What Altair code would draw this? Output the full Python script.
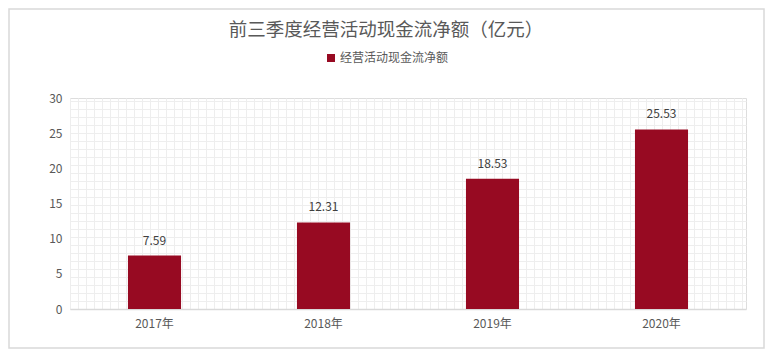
import altair as alt
import pandas as pd

# ---- data ----
YEARS = ["2017年", "2018年", "2019年", "2020年"]
VALUES = [7.59, 12.31, 18.53, 25.53]
SERIES = "经营活动现金流净额"
TITLE = "前三季度经营活动现金流净额（亿元）"
Y_TICKS = [0, 5, 10, 15, 20, 25, 30]

FONT = "Noto Sans CJK SC"
BAR_COLOR = "#970a22"
TEXT_COLOR = "#595959"

W, H = 676, 211

df = pd.DataFrame({"year": YEARS, "value": VALUES, "series": [SERIES] * len(YEARS)})

# decorative square background grid (about 8px cells)
grid_df = pd.DataFrame({"gx": [0], "gy": [0]})
grid = alt.Chart(grid_df).mark_point(opacity=0).encode(
    x=alt.X("gx:Q", scale=alt.Scale(domain=[0, 84.5], nice=False, zero=False),
            axis=alt.Axis(orient="top", grid=True, gridColor="#eeeeee", gridWidth=1,
                          labels=False, ticks=False, domain=False, title=None,
                          values=list(range(0, 85)))),
    y=alt.Y("gy:Q", scale=alt.Scale(domain=[0, 26.4], nice=False, zero=False),
            axis=alt.Axis(orient="right", grid=True, gridColor="#eeeeee", gridWidth=1,
                          labels=False, ticks=False, domain=False, title=None,
                          values=list(range(0, 27)))),
)

base = alt.Chart(df)
x_enc = alt.X("year:N", sort=YEARS,
              scale=alt.Scale(paddingInner=0.686, paddingOuter=0.343),
              axis=alt.Axis(orient="bottom", title=None, labelAngle=0, ticks=False,
                            domainColor="#d9d9d9", domainWidth=1.5,
                            labelColor=TEXT_COLOR, labelFontSize=12, labelFont=FONT,
                            labelPadding=9, grid=False))
y_enc = alt.Y("value:Q", scale=alt.Scale(domain=[0, 30], nice=False),
              axis=alt.Axis(orient="left", title=None, values=Y_TICKS, grid=False,
                            ticks=False, domain=False, labelColor=TEXT_COLOR,
                            labelFontSize=12, labelFont=FONT, labelPadding=8,
                            labelOverlap=False, tickCount=7))

bars = base.mark_bar(color=BAR_COLOR).encode(
    x=x_enc,
    y=y_enc,
    color=alt.Color("series:N", scale=alt.Scale(range=[BAR_COLOR]),
                    legend=alt.Legend(title=None, orient="none", legendX=255, legendY=-46,
                                      symbolType="square", symbolSize=64,
                                      symbolStrokeWidth=0, labelFont=FONT,
                                      labelFontSize=12, labelColor=TEXT_COLOR,
                                      labelOffset=3, padding=0)),
)
labels = base.mark_text(baseline="bottom", dy=-8, font=FONT, fontSize=12,
                        color="#404040").encode(
    x=x_enc,
    y=y_enc,
    text=alt.Text("value:Q", format=".2f"),
)

main = alt.layer(bars, labels)

frame = alt.Chart(grid_df).mark_rect(fill=None, stroke="#d9d9d9", strokeWidth=1.5).encode(
    x=alt.value(-61), x2=alt.value(W + 18), y=alt.value(-89), y2=alt.value(H + 39),
)

chart = alt.layer(grid, main, frame).resolve_scale(
    x="independent", y="independent"
).properties(
    width=W, height=H,
    autosize=alt.AutoSizeParams(type="none"),
    padding={"left": 62, "top": 90, "right": 19, "bottom": 41},
    title=alt.TitleParams(TITLE, font=FONT, fontSize=18.5, fontWeight="normal",
                          color=TEXT_COLOR, anchor="middle", offset=-31, dx=-22),
).configure_view(stroke=None).configure(background="white")

chart.save("out.html", embed_options={"renderer": "svg", "actions": False})
